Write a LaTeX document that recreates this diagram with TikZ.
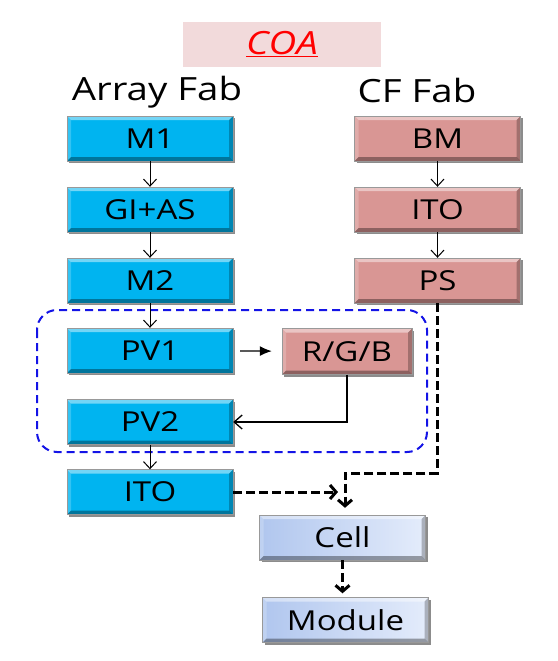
\documentclass[tikz,border=0pt]{standalone}
\usepackage{fontspec}
\setmainfont{Open Sans}[FakeStretch=1.2]
\usetikzlibrary{arrows.meta,shadows}
\definecolor{boxblue}{RGB}{0,180,240}
\definecolor{boxpink}{RGB}{217,150,148}
\definecolor{celll}{RGB}{176,198,238}
\definecolor{cellr}{RGB}{228,236,251}
\definecolor{titlepink}{RGB}{242,218,219}
\definecolor{grpblue}{RGB}{20,20,230}
\tikzset{
  bevel/.style={path picture={
    \fill[white,opacity=0.45] (path picture bounding box.north west) -- (path picture bounding box.north east) -- ([shift={(-4pt,-4pt)}]path picture bounding box.north east) -- ([shift={(4pt,-4pt)}]path picture bounding box.north west) -- cycle;
    \fill[white,opacity=0.2] (path picture bounding box.north west) -- ([shift={(4pt,-4pt)}]path picture bounding box.north west) -- ([shift={(4pt,4pt)}]path picture bounding box.south west) -- (path picture bounding box.south west) -- cycle;
    \fill[black,opacity=0.35] (path picture bounding box.south west) -- ([shift={(4pt,4pt)}]path picture bounding box.south west) -- ([shift={(-4pt,4pt)}]path picture bounding box.south east) -- (path picture bounding box.south east) -- cycle;
    \fill[black,opacity=0.25] (path picture bounding box.north east) -- ([shift={(-4pt,-4pt)}]path picture bounding box.north east) -- ([shift={(-4pt,4pt)}]path picture bounding box.south east) -- (path picture bounding box.south east) -- cycle;
  }},
  proc/.style={draw=black!40, line width=0.4pt, minimum width=166pt, minimum height=45pt, inner sep=0pt,
    font=\fontsize{27.5}{30}\selectfont, bevel,
    drop shadow={shadow xshift=2pt,shadow yshift=-2pt,opacity=0.45,fill=black}},
  arr/.style={proc, fill=boxblue},
  cf/.style={proc, fill=boxpink},
  fin/.style={proc, left color=celll, right color=cellr},
  heading/.style={font=\fontsize{32}{36}\selectfont, inner sep=0pt},
  thin/.style={line width=1pt, -{Straight Barb[length=7pt,width=13pt]}},
  thickdash/.style={line width=3pt, dash pattern=on 9pt off 4pt, -{Straight Barb[length=6pt,width=14pt,line width=3pt]}},
}
\begin{document}
\begin{tikzpicture}[x=1pt,y=-1pt]
\useasboundingbox (0,0) rectangle (557,661);
\node[fill=titlepink, minimum width=198pt, minimum height=45pt, inner sep=0pt,
      text=red, font=\fontsize{32}{36}\selectfont] (title) at (282,44.5) {\underline{\textit{COA}}};
\node[heading] (arrayfab) at (157,92) {Array Fab};
\node[heading] (cffab) at (417,90) {CF Fab};

\draw[grpblue, line width=2pt, dash pattern=on 8pt off 5pt, rounded corners=20pt] (37,310) rectangle (427,452);

\node[arr] (m1) at (150,138.5) {M1};
\node[arr] (gias) at (150,209.5) {GI+AS};
\node[arr] (m2) at (150,280.5) {M2};
\node[arr] (pv1) at (150,350.5) {PV1};
\node[arr] (pv2) at (150,422) {PV2};
\node[arr] (ito1) at (150,492) {ITO};

\node[cf] (bm) at (437.5,138.5) {BM};
\node[cf] (ito2) at (437.5,209.5) {ITO};
\node[cf] (ps) at (437.5,280.5) {PS};
\node[cf, minimum width=130pt, minimum height=46pt] (rgb) at (347,351.5) {R/G/B};

\node[fin] (cell) at (342.5,537.5) {Cell};
\node[fin] (module) at (345.5,620) {Module};

\draw[thin] (m1) -- (gias);
\draw[thin] (gias) -- (m2);
\draw[thin] (m2) -- (pv1);
\draw[thin] (pv2) -- (ito1);
\draw[thin] (bm) -- (ito2);
\draw[thin] (ito2) -- (ps);
\draw[line width=1.3pt, -{Latex[length=12pt,width=10pt]}, shorten <=7pt, shorten >=10pt] (pv1) -- (rgb);
\draw[line width=1.3pt, -{Straight Barb[length=8pt,width=14pt]}] (rgb.south) |- (pv2.east);

\coordinate (j) at (345,473);
\coordinate (k) at (338,492);
\draw[thickdash, shorten >=7pt] (ps.south) |- (j) -- (j |- cell.north);
\draw[thickdash] (ito1.east) -- (k);
\draw[thickdash, shorten >=4pt] (cell.south) -- (cell.south |- module.north);
\end{tikzpicture}
\end{document}
